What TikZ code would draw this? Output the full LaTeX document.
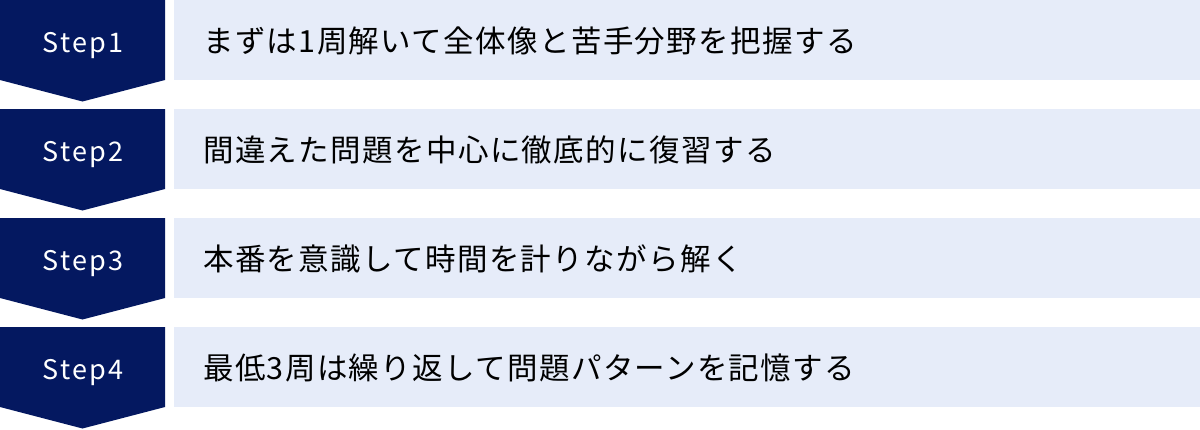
\documentclass[tikz,border=0pt]{standalone}
\usepackage{fontspec}
\setmainfont{Noto Sans CJK JP}
\newfontfamily\stepfont[LetterSpace=8]{Noto Sans CJK JP}
\newfontfamily\descfont[LetterSpace=4.5]{Noto Sans CJK JP}
\definecolor{navy}{RGB}{4,24,96}
\definecolor{pale}{RGB}{230,236,249}
\begin{document}
\begin{tikzpicture}[x=1pt,y=-1pt,
  stepshape/.style={fill=navy},
  bar/.style={fill=pale},
  steplabel/.style={text=white,inner sep=0pt,anchor=base,font=\stepfont\fontsize{27}{30}\selectfont},
  desc/.style={text=black,inner sep=0pt,anchor=base west,font=\descfont\fontsize{30.5}{36}\selectfont}]
\useasboundingbox (0,0) rectangle (1200,429);
\foreach \i/\t [count=\n from 0] in {1/まずは1周解いて全体像と苦手分野を把握する,2/間違えた問題を中心に徹底的に復習する,3/本番を意識して時間を計りながら解く,4/最低3周は繰り返して問題パターンを記憶する}{
  \pgfmathsetmacro{\yy}{109*\n}
  \fill[stepshape] (0,\yy) -- (165,\yy) -- (165,\yy+80) -- (82.5,\yy+101.5) -- (0,\yy+80) -- cycle;
  \fill[bar] (174,\yy) rectangle (1200,\yy+80);
  \node[steplabel] (s\i) at (83,\yy+52) {Step\i};
  \node[desc] (d\i) at (203,\yy+52.5) {\t};
}
\end{tikzpicture}
\end{document}
